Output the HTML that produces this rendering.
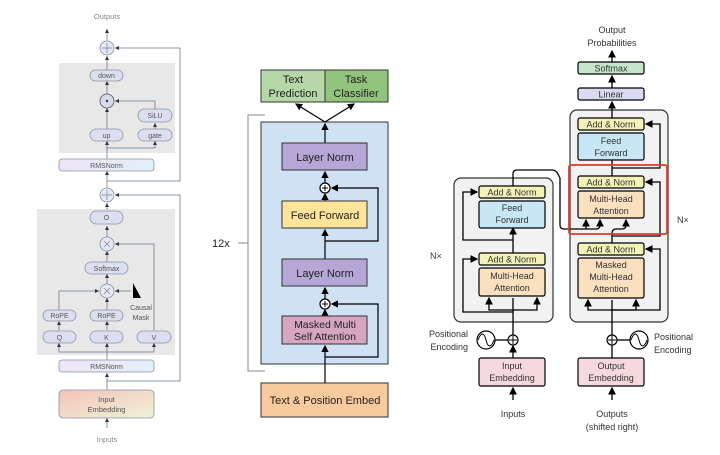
<!DOCTYPE html>
<html><head><meta charset="utf-8"><style>
html,body{margin:0;padding:0;background:#fff;width:720px;height:455px;overflow:hidden}
text{font-family:"Liberation Sans",sans-serif}
</style></head><body>
<svg width="720" height="455" viewBox="0 0 720 455" xmlns="http://www.w3.org/2000/svg">
<defs>
<marker id="a" markerWidth="6" markerHeight="6" refX="5" refY="3" orient="auto"><path d="M0,0.5 L5,3 L0,5.5z" fill="#334"/></marker>
<marker id="b" markerWidth="6" markerHeight="6" refX="5" refY="3" orient="auto"><path d="M0,0 L6,3 L0,6z" fill="#000"/></marker>
<linearGradient id="rms" x1="0" x2="1"><stop offset="0" stop-color="#efe4f5"/><stop offset="1" stop-color="#e2f0f8"/></linearGradient>
<linearGradient id="emb" x1="0" y1="0" x2="1" y2="1"><stop offset="0" stop-color="#f6c2b8"/><stop offset="1" stop-color="#eef3d8"/></linearGradient>
</defs>
<!-- LEFT PANEL -->
<g font-size="7" fill="#555" stroke-width="0.8">
<text x="107" y="19" text-anchor="middle" fill="#888" font-size="7.5">Outputs</text>
<rect x="59" y="63" width="116" height="90" fill="#e8e8e8"/>
<rect x="37" y="209" width="138" height="146" fill="#e8e8e8"/>
<g stroke="#6a7a8a" fill="none">
<line x1="107" y1="41" x2="107" y2="29" marker-end="url(#a)"/>
<line x1="107" y1="70" x2="107" y2="56" marker-end="url(#a)"/>
<line x1="107" y1="94" x2="107" y2="81" marker-end="url(#a)"/>
<line x1="107" y1="129" x2="107" y2="108" marker-end="url(#a)"/>
<polyline points="155,109 155,101 115,101" marker-end="url(#a)"/>
<line x1="155" y1="129" x2="155" y2="123" marker-end="url(#a)"/>
<polyline points="107,159 107,148 155,148 155,141" marker-end="url(#a)"/>
<line x1="107" y1="148" x2="107" y2="141" marker-end="url(#a)"/>
<line x1="107" y1="188" x2="107" y2="171" marker-end="url(#a)"/>
<polyline points="107,181 180,181 180,48 115,48" marker-end="url(#a)"/>
<line x1="107" y1="210" x2="107" y2="203" marker-end="url(#a)"/>
<line x1="107" y1="237" x2="107" y2="226" marker-end="url(#a)"/>
<line x1="107" y1="262" x2="107" y2="251" marker-end="url(#a)"/>
<line x1="107" y1="284" x2="107" y2="274" marker-end="url(#a)"/>
<polyline points="154,330 154,244 115,244" marker-end="url(#a)"/>
<polyline points="59,310 59,291 99,291" marker-end="url(#a)"/>
<line x1="107" y1="310" x2="107" y2="298" marker-end="url(#a)"/>
<line x1="131" y1="291" x2="115" y2="291" marker-end="url(#a)"/>
<line x1="59" y1="330" x2="59" y2="321" marker-end="url(#a)"/>
<line x1="107" y1="330" x2="107" y2="321" marker-end="url(#a)"/>
<polyline points="107,360 107,352 59,352 59,343" marker-end="url(#a)"/>
<polyline points="107,352 154,352 154,343" marker-end="url(#a)"/>
<line x1="107" y1="352" x2="107" y2="343" marker-end="url(#a)"/>
<line x1="107" y1="390" x2="107" y2="373" marker-end="url(#a)"/>
<polyline points="107,381 180,381 180,195 115,195" marker-end="url(#a)"/>
<line x1="107" y1="428" x2="107" y2="418" marker-end="url(#a)"/>
</g>
<g stroke="#8a93a3" fill="#dcdff0">
<circle cx="107" cy="48" r="7" fill="#e4eaf5"/>
<circle cx="107" cy="101" r="7" fill="#d5dbe8" stroke="#556"/>
<rect x="90" y="70" width="33" height="11" rx="5.5"/>
<rect x="138" y="109" width="34" height="13" rx="6.5"/>
<rect x="90" y="129" width="33" height="12" rx="6"/>
<rect x="138" y="129" width="34" height="12" rx="6"/>
<rect x="59" y="159" width="95" height="12" rx="3" fill="url(#rms)"/>
<circle cx="107" cy="195" r="7" fill="#e4eaf5"/>
<rect x="90" y="211" width="33" height="13" rx="6.5"/>
<circle cx="107" cy="244" r="7" fill="#e4eaf5"/>
<rect x="85" y="262" width="43" height="12" rx="6"/>
<circle cx="107" cy="291" r="7" fill="#e4eaf5"/>
<rect x="43" y="310" width="33" height="11" rx="5.5"/>
<rect x="90" y="310" width="33" height="11" rx="5.5"/>
<rect x="43" y="331" width="33" height="12" rx="6"/>
<rect x="90" y="331" width="33" height="12" rx="6"/>
<rect x="137" y="331" width="34" height="12" rx="6"/>
<rect x="59" y="360" width="95" height="12" rx="3" fill="url(#rms)"/>
<rect x="59" y="390" width="95" height="28" rx="4" fill="url(#emb)"/>
</g>
<path d="M133,283 L133,298 L141,298z" fill="#000"/>
<g stroke="#889" stroke-width="0.8"><line x1="102" y1="48" x2="112" y2="48"/><line x1="107" y1="43" x2="107" y2="53"/><line x1="102" y1="195" x2="112" y2="195"/><line x1="107" y1="190" x2="107" y2="200"/>
<line x1="104" y1="241" x2="110" y2="247"/><line x1="110" y1="241" x2="104" y2="247"/><line x1="104" y1="288" x2="110" y2="294"/><line x1="110" y1="288" x2="104" y2="294"/></g>
<circle cx="107" cy="101" r="1.2" fill="#333"/>
<g text-anchor="middle">
<text x="106.5" y="78">down</text><text x="155" y="118">SiLU</text><text x="106.5" y="138">up</text><text x="155" y="138">gate</text>
<text x="106.5" y="168">RMSNorm</text><text x="106.5" y="220">O</text><text x="106.5" y="271">Softmax</text>
<text x="59.5" y="318">RoPE</text><text x="106.5" y="318">RoPE</text>
<text x="59.5" y="340">Q</text><text x="106.5" y="340">K</text><text x="154" y="340">V</text>
<text x="141" y="310">Causal</text><text x="141" y="320">Mask</text>
<text x="106.5" y="369">RMSNorm</text>
<text x="106.5" y="402" font-size="7.5">Input</text><text x="106.5" y="412" font-size="7.5">Embedding</text>
<text x="107" y="442" fill="#888" font-size="7.5">Inputs</text>
</g></g>
<!-- MIDDLE PANEL -->
<g font-size="11" fill="#222">
<rect x="261" y="122" width="127" height="242" fill="#cfe2f3" stroke="#333" stroke-width="1"/>
<polyline points="265,115 248,115 248,371 265,371" fill="none" stroke="#888" stroke-width="1"/>
<line x1="238" y1="243" x2="248" y2="243" stroke="#888"/>
<text x="212" y="247">12x</text>
<rect x="261" y="70" width="64" height="32" fill="#b6d7a8" stroke="#333"/>
<rect x="325" y="70" width="63" height="32" fill="#93c47d" stroke="#333"/>
<text x="293" y="83" text-anchor="middle">Text</text><text x="293" y="97" text-anchor="middle">Prediction</text>
<text x="356" y="83" text-anchor="middle">Task</text><text x="356" y="97" text-anchor="middle">Classifier</text>
<g stroke="#000" stroke-width="1.2" fill="none">
<line x1="325" y1="122" x2="296" y2="104" marker-end="url(#b)"/>
<line x1="325" y1="122" x2="354" y2="104" marker-end="url(#b)"/>
<line x1="325" y1="143" x2="325" y2="124" marker-end="url(#b)"/>
<line x1="325" y1="183" x2="325" y2="172" marker-end="url(#b)"/>
<line x1="325" y1="201" x2="325" y2="194" marker-end="url(#b)"/>
<line x1="325" y1="259" x2="325" y2="230" marker-end="url(#b)"/>
<polyline points="325,241 378,241 378,188 332,188" marker-end="url(#b)"/>
<line x1="325" y1="299" x2="325" y2="288" marker-end="url(#b)"/>
<line x1="325" y1="316" x2="325" y2="310" marker-end="url(#b)"/>
<line x1="325" y1="383" x2="325" y2="346" marker-end="url(#b)"/>
<polyline points="325,357 378,357 378,304 332,304" marker-end="url(#b)"/>
</g>
<rect x="282" y="143" width="85" height="27" fill="#b4a7d6" stroke="#333"/>
<rect x="282" y="201" width="85" height="27" fill="#ffe599" stroke="#333"/>
<rect x="282" y="259" width="85" height="27" fill="#b4a7d6" stroke="#333"/>
<rect x="282" y="316" width="85" height="28" fill="#d5a6bd" stroke="#333"/>
<rect x="261" y="383" width="127" height="34" fill="#f9cb9c" stroke="#333"/>
<g fill="#fff" stroke="#000" stroke-width="1.2"><circle cx="325" cy="188" r="5"/><circle cx="325" cy="304" r="5"/></g>
<g stroke="#000" stroke-width="1"><line x1="322" y1="188" x2="328" y2="188"/><line x1="325" y1="185" x2="325" y2="191"/><line x1="322" y1="304" x2="328" y2="304"/><line x1="325" y1="301" x2="325" y2="307"/></g>
<g text-anchor="middle"><text x="325" y="161">Layer Norm</text><text x="325" y="219">Feed Forward</text><text x="325" y="277">Layer Norm</text>
<text x="325" y="328" font-size="10.5">Masked Multi</text><text x="325" y="340" font-size="10.5">Self Attention</text>
<text x="325" y="404">Text &amp; Position Embed</text></g>
</g>
<!-- RIGHT PANEL -->
<g font-size="9" fill="#333">
<rect x="454" y="178" width="99" height="144" rx="7" fill="#f2f2f2" stroke="#333" stroke-width="1.2"/>
<rect x="570" y="110" width="98" height="212" rx="7" fill="#f2f2f2" stroke="#333" stroke-width="1.2"/>
<g stroke="#000" stroke-width="1.3" fill="none">
<line x1="612" y1="62" x2="612" y2="51" marker-end="url(#b)"/>
<line x1="612" y1="88" x2="612" y2="76" marker-end="url(#b)"/>
<line x1="612" y1="118" x2="612" y2="102" marker-end="url(#b)"/>
<line x1="612" y1="176" x2="612" y2="160"/>
<line x1="612" y1="358" x2="612" y2="345"/>
<line x1="612" y1="335" x2="612" y2="300"/>
<line x1="612" y1="400" x2="612" y2="388" marker-end="url(#b)"/>
<polyline points="612,168 660,168 660,124 646,124" marker-end="url(#b)"/>
<polyline points="612,236 660,236 660,182 646,182" marker-end="url(#b)"/>
<polyline points="612,310 660,310 660,249 646,249" marker-end="url(#b)"/>
<polyline points="612,310 588,310 588,300" marker-end="url(#b)"/>
<polyline points="612,310 636,310 636,300" marker-end="url(#b)"/>
<!-- cross attention -->
<path d="M513,186 L513,174 Q513,170 517,170 L552,170 Q556,170 558,174 L560,178 L560,225 Q560,229 564,229 L596,229 Q600,229 600,225 L600,220" marker-end="url(#b)"/>
<path d="M586,229 L586,220" marker-end="url(#b)"/>
<path d="M612,243 L612,234 Q612,229 616,229 L622,229 Q626,229 626,225 L626,220" marker-end="url(#b)"/>
<line x1="513" y1="253" x2="513" y2="228" marker-end="url(#b)"/>
<line x1="513" y1="335" x2="513" y2="298"/>
<line x1="513" y1="358" x2="513" y2="346" marker-end="url(#b)"/>
<line x1="513" y1="400" x2="513" y2="388" marker-end="url(#b)"/>
<polyline points="513,240 463,240 463,192 477,192" marker-end="url(#b)"/>
<polyline points="513,312 463,312 463,259 477,259" marker-end="url(#b)"/>
<polyline points="513,310 489,310 489,298" marker-end="url(#b)"/>
<polyline points="513,310 537,310 537,298" marker-end="url(#b)"/>
<line x1="495" y1="340" x2="508" y2="340"/><line x1="617" y1="340" x2="630" y2="340"/>
</g>
<g stroke="#000" stroke-width="1.2">
<rect x="578" y="62" width="66" height="12" rx="2" fill="#c7e5cc"/>
<rect x="578" y="88" width="66" height="12" rx="2" fill="#d9dcf0"/>
<rect x="578" y="118" width="66" height="12" rx="2" fill="#f3f3b7"/>
<rect x="578" y="133" width="66" height="27" rx="2" fill="#c7e7f5"/>
<rect x="578" y="176" width="66" height="12" rx="2" fill="#f3f3b7"/>
<rect x="578" y="191" width="66" height="27" rx="2" fill="#fbe0c0"/>
<rect x="578" y="243" width="66" height="12" rx="2" fill="#f3f3b7"/>
<rect x="578" y="258" width="66" height="40" rx="2" fill="#fbe0c0"/>
<rect x="479" y="186" width="66" height="12" rx="2" fill="#f3f3b7"/>
<rect x="479" y="201" width="66" height="27" rx="2" fill="#c7e7f5"/>
<rect x="479" y="253" width="66" height="12" rx="2" fill="#f3f3b7"/>
<rect x="479" y="268" width="66" height="28" rx="2" fill="#fbe0c0"/>
<rect x="479" y="358" width="66" height="28" rx="2" fill="#f5d9dc"/>
<rect x="578" y="358" width="66" height="28" rx="2" fill="#f5d9dc"/>
<circle cx="513" cy="340" r="5" fill="#fff"/><circle cx="612" cy="340" r="5" fill="#fff"/>
<circle cx="486" cy="340" r="9" fill="#fff"/><circle cx="639" cy="340" r="9" fill="#fff"/>
</g>
<g stroke="#000" stroke-width="1" fill="none">
<line x1="509" y1="340" x2="517" y2="340"/><line x1="513" y1="336" x2="513" y2="344"/>
<line x1="608" y1="340" x2="616" y2="340"/><line x1="612" y1="336" x2="612" y2="344"/>
<path d="M478,340 C481,332 484,332 486,340 C488,348 491,348 494,340"/>
<path d="M631,340 C634,332 637,332 639,340 C641,348 644,348 647,340"/>
</g>
<rect x="569" y="165" width="98" height="69" fill="none" stroke="#e53a2a" stroke-width="1.8" rx="2"/>
<g text-anchor="middle">
<text x="612" y="33">Output</text><text x="612" y="46">Probabilities</text>
<text x="611" y="71.5">Softmax</text><text x="611" y="97.5">Linear</text>
<text x="611" y="127.5">Add &amp; Norm</text><text x="611" y="144">Feed</text><text x="611" y="156">Forward</text>
<text x="611" y="185.5">Add &amp; Norm</text><text x="611" y="202">Multi-Head</text><text x="611" y="214">Attention</text>
<text x="611" y="252.5">Add &amp; Norm</text><text x="611" y="268">Masked</text><text x="611" y="280">Multi-Head</text><text x="611" y="292">Attention</text>
<text x="512" y="195.5">Add &amp; Norm</text><text x="512" y="211">Feed</text><text x="512" y="223">Forward</text>
<text x="512" y="262.5">Add &amp; Norm</text><text x="512" y="279">Multi-Head</text><text x="512" y="291">Attention</text>
<text x="512" y="369">Input</text><text x="512" y="381">Embedding</text>
<text x="611" y="369">Output</text><text x="611" y="381">Embedding</text>
<text x="513" y="417">Inputs</text>
<text x="612" y="417">Outputs</text><text x="612" y="430">(shifted right)</text>
</g>
<text x="468" y="337" text-anchor="end">Positional</text><text x="468" y="350" text-anchor="end">Encoding</text>
<text x="654" y="340">Positional</text><text x="654" y="353">Encoding</text>
<text x="430" y="259">N×</text><text x="677" y="223">N×</text>
</g>
</svg>
</body></html>
